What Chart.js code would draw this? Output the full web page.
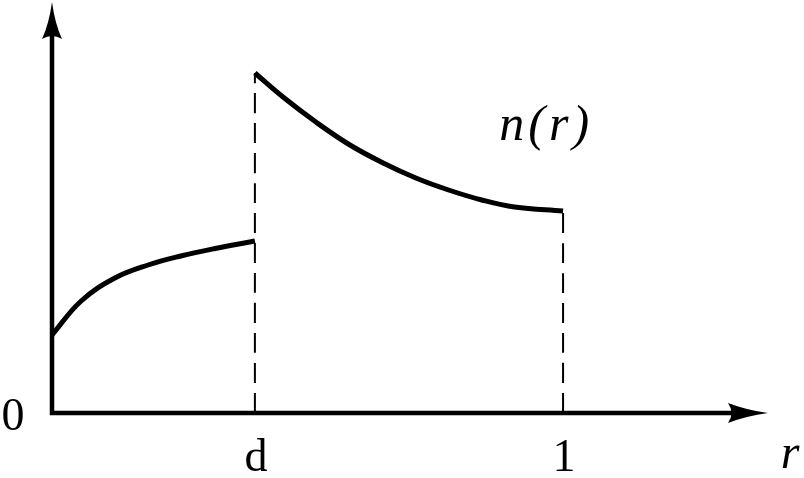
<!DOCTYPE html>
<html>
<head>
<meta charset="utf-8">
<script src="https://cdn.jsdelivr.net/npm/chart.js@4.4.1/dist/chart.umd.min.js"></script>
<style>
  html, body { margin: 0; padding: 0; background: #fff; }
  #wrap { width: 804px; height: 478px; }
</style>
</head>
<body>
<div id="wrap"><canvas id="c" width="804" height="478"></canvas></div>
<script>
// r runs from 0 to 1, with the jump at r = d
const D = 0.397;
const R_MAX = 1.401;   // end of the r axis (arrow tip)
const N_MAX = 4.11;    // end of the n axis (arrow tip)

// inner part, 0 <= r <= d
const innerR = [0, 0.057, 0.123, 0.188, 0.252, 0.319, D];
const innerN = [0.78, 1.12, 1.35, 1.48, 1.57, 1.645, 1.72];

// outer part, d <= r <= 1
const outerR = [D, 0.452, 0.519, 0.583, 0.648, 0.712, 0.776, 0.841, 0.905, 1.0];
const outerN = [3.40, 3.16, 2.90, 2.68, 2.50, 2.35, 2.23, 2.13, 2.06, 2.02];

const tickValues = [0, D, 1];
const tickLabels = ['d', '1'];
const originLabel = '0';
const axisLabel = 'r';
const curveLabel = 'n(r)';

const pts = (xs, ys) => xs.map((x, i) => ({ x: x, y: ys[i] }));

const serif = '"Liberation Serif", "DejaVu Serif", serif';

const decor = {
  id: 'decor',
  afterDatasetsDraw(chart) {
    const ctx = chart.ctx;
    const xs = chart.scales.x, ys = chart.scales.y;
    const x0 = xs.getPixelForValue(0), y0 = ys.getPixelForValue(0);
    const xEnd = xs.getPixelForValue(R_MAX), yEnd = ys.getPixelForValue(N_MAX);
    ctx.save();
    ctx.fillStyle = '#000';
    ctx.strokeStyle = '#000';
    // axes
    ctx.lineWidth = 4.5;
    ctx.beginPath();
    ctx.moveTo(x0, yEnd + 30);
    ctx.lineTo(x0, y0);
    ctx.lineTo(xEnd - 30, y0);
    ctx.stroke();
    // up arrow head
    ctx.beginPath();
    ctx.moveTo(x0, yEnd);
    ctx.quadraticCurveTo(x0 + 3, yEnd + 22, x0 + 10, yEnd + 37);
    ctx.quadraticCurveTo(x0, yEnd + 31, x0 - 10, yEnd + 37);
    ctx.quadraticCurveTo(x0 - 3, yEnd + 22, x0, yEnd);
    ctx.fill();
    // right arrow head
    ctx.beginPath();
    ctx.moveTo(xEnd, y0);
    ctx.quadraticCurveTo(xEnd - 22, y0 + 3, xEnd - 40, y0 + 10);
    ctx.quadraticCurveTo(xEnd - 33, y0, xEnd - 40, y0 - 10);
    ctx.quadraticCurveTo(xEnd - 22, y0 - 3, xEnd, y0);
    ctx.fill();

    // text
    ctx.textBaseline = 'middle';
    ctx.textAlign = 'center';
    ctx.font = '46px ' + serif;
    ctx.fillText(originLabel, x0 - 39, y0 + 5);
    tickLabels.forEach((t, i) => {
      ctx.fillText(t, xs.getPixelForValue(tickValues[i + 1]) + 1, y0 + 46);
    });
    ctx.font = 'italic 48px ' + serif;
    ctx.fillText(axisLabel, xs.getPixelForValue(R_MAX) + 22, y0 + 42);
    ctx.font = 'italic 50px ' + serif;
    ctx.letterSpacing = '4px';
    ctx.fillText(curveLabel, xs.getPixelForValue(0.963) + 2, ys.getPixelForValue(2.86));
    ctx.restore();
  }
};

const lineSet = (data, width, dash) => ({
  data: data,
  borderColor: '#000',
  borderWidth: width,
  borderDash: dash || [],
  pointRadius: 0,
  fill: false,
  tension: 0.4,
  borderCapStyle: 'butt'
});

new Chart(document.getElementById('c'), {
  type: 'line',
  data: {
    datasets: [
      lineSet(pts([D, D], [0, outerN[0]]), 2, [20, 10]),
      lineSet(pts([1, 1], [0, outerN[outerN.length - 1]]), 2, [20, 10]),
      lineSet(pts(innerR, innerN), 5),
      lineSet(pts(outerR, outerN), 5)
    ]
  },
  options: {
    responsive: false,
    animation: false,
    layout: { padding: { left: 52, right: 36, top: 2, bottom: 65 } },
    plugins: { legend: { display: false }, tooltip: { enabled: false } },
    scales: {
      x: { type: 'linear', min: 0, max: R_MAX, display: false },
      y: { type: 'linear', min: 0, max: N_MAX, display: false }
    }
  },
  plugins: [decor]
});
</script>
</body>
</html>
